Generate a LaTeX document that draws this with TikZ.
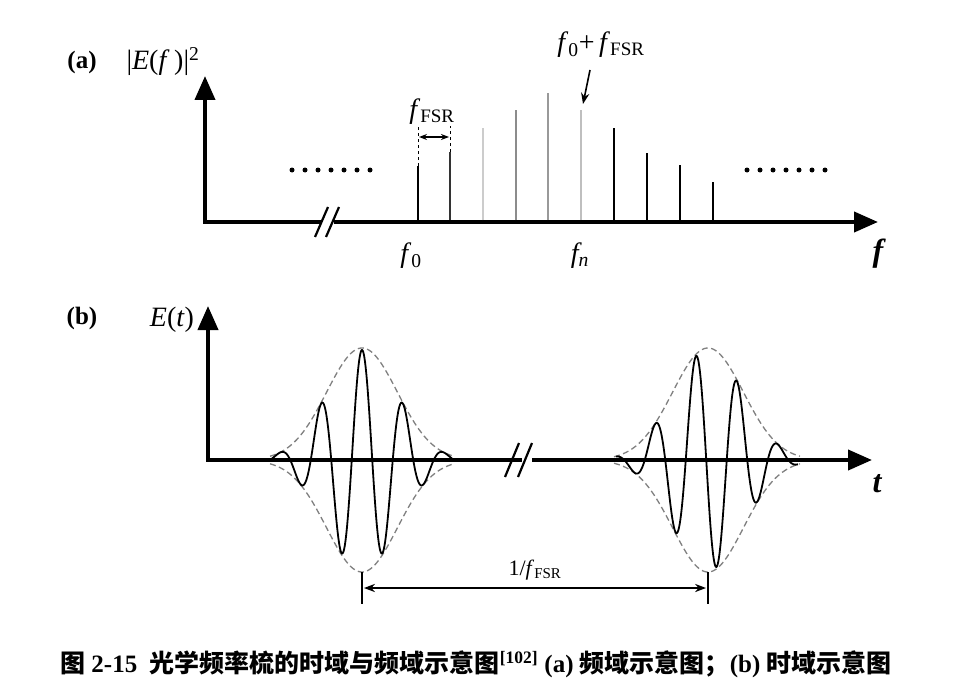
\documentclass[tikz,border=0pt]{standalone}
\usepackage{fontspec}
\setmainfont{Liberation Serif}
\newfontfamily\cjk{Noto Sans CJK SC}
\usetikzlibrary{arrows.meta}
\begin{document}
\begin{tikzpicture}[x=1pt,y=-1pt,
  axis/.style={line width=4pt,-{Triangle[length=24pt,width=20pt]}},
  comb/.style={line width=2.6pt},
  env/.style={gray,line width=1.3pt,dash pattern=on 6pt off 3.5pt},
  wave/.style={line width=1.8pt},
  lab/.style={font=\fontsize{28}{30}\selectfont, inner sep=0pt}]
\useasboundingbox[fill=white] (0,0) rectangle (976,690);
% ---------- (a)
\node[lab,font=\fontsize{25}{27}\selectfont\bfseries] (la) at (82,62) {(a)};
\node[lab] (Ef) at (163,62) {|\textit{E}(\textit{f}\,)|\textsuperscript{2}};
\coordinate (o1) at (205,222);
\draw[axis] (o1) -- (205,76);
\draw[axis] (203,222) -- (878,222);
\node[lab,font=\fontsize{32}{34}\selectfont\bfseries\itshape] (f) at (878,254) {f};
% break
\fill[white] (322,212) rectangle (334,232);
\draw[line width=2.2pt] (315,237) -- (328,207) (326,237) -- (339,207);
% dots
\foreach \x in {292,305,...,370} \fill (\x,170) circle (2.5pt);
\foreach \x in {747,760,...,825} \fill (\x,170) circle (2.5pt);
% comb lines
\foreach \x/\t/\c in {418/166/black,450/152/black!80,483/128/black!20,516/110/black!45,548/93/black!40,581/110/black!25,614/128/black,647/153/black,680/165/black,713/182/black}
  \draw[comb,\c] (\x,220) -- (\x,\t);
\draw[dashed,line width=0.9pt] (418,166) -- (418,126) (450,152) -- (450,126);
\draw[{Stealth[length=8pt]}-{Stealth[length=8pt]},line width=1.4pt] (419,137) -- (449,137);
\node[lab] (ffsr) at (432,112) {\textit{f}\textsubscript{\fontsize{19}{19}\selectfont FSR}};
\node[lab] (f0f) at (601,45) {\textit{f}\textsubscript{0}+\,\textit{f}\textsubscript{\fontsize{19}{19}\selectfont FSR}};
\draw[-{Stealth[length=11pt]},line width=1.6pt] (590,70) -- (583,104);
\node[lab] (f0) at (411,256) {\textit{f}\textsubscript{0}};
\node[lab] (fn) at (580,256) {\textit{f\textsubscript{n}}};
% ---------- (b)
\node[lab,font=\fontsize{25}{27}\selectfont\bfseries] (lb) at (82,318) {(b)};
\node[lab] (Et) at (172,320) {\textit{E}(\textit{t})};
\coordinate (o2) at (208,460);
\draw[axis] (o2) -- (208,306);
\draw[axis] (206,460) -- (872,460);
\node[lab,font=\fontsize{32}{34}\selectfont\bfseries\itshape] (t) at (877,484) {t};
\fill[white] (522,450) rectangle (532,470);
\draw[line width=2.2pt] (505,477) -- (519,443) (518,477) -- (532,443);
% pulses
\draw[env] plot[domain=270:454,samples=120] (\x,{460-112*exp(-((\x-362)/50)^2)});
\draw[env] plot[domain=270:454,samples=120] (\x,{460+112*exp(-((\x-362)/50)^2)});
\draw[wave] plot[domain=272:452,samples=400] (\x,{460-110*exp(-((\x-362)/50)^2)*cos(8.7805*(\x-362))});
\draw[env] plot[domain=614:800,samples=120] (\x,{460-112*exp(-((\x-708)/50)^2)});
\draw[env] plot[domain=614:800,samples=120] (\x,{460+112*exp(-((\x-708)/50)^2)});
\draw[wave] plot[domain=616:798,samples=400] (\x,{460-110*exp(-((\x-708)/50)^2)*cos(8.7805*(\x-696))});
% period marker
\draw[line width=1.6pt] (362,572) -- (362,604) (708,572) -- (708,604);
\draw[{Stealth[length=11pt]}-{Stealth[length=11pt]},line width=1.4pt] (364,588) -- (706,588);
\node[lab,font=\fontsize{22}{24}\selectfont] (per) at (535,570) {1/\textit{f}\textsubscript{\fontsize{15}{15}\selectfont FSR}};
% caption
\node[lab,font=\fontsize{25}{27}\selectfont\bfseries,anchor=west] (cap) at (60,664)
 {{\cjk 图}\ 2-15\ \ {\cjk 光学频率梳的时域与频域示意图}\textsuperscript{[102]}\ (a)\ {\cjk 频域示意图；}(b)\ {\cjk 时域示意图}};
\end{tikzpicture}
\end{document}
